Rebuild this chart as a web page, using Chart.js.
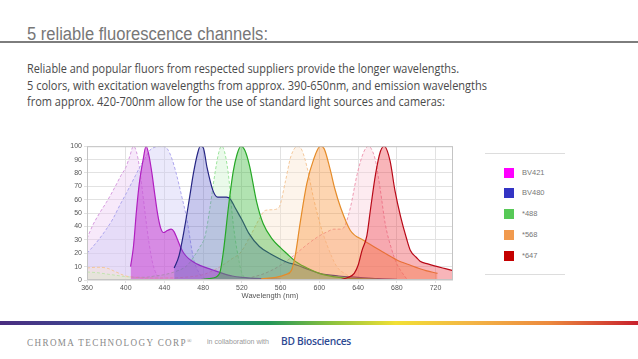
<!DOCTYPE html>
<html>
<head>
<meta charset="utf-8">
<script src="https://cdn.jsdelivr.net/npm/chart.js@4.4.1/dist/chart.umd.min.js"></script>
<style>
  html, body { margin: 0; padding: 0; background: #fff; }
  body { width: 638px; height: 359px; position: relative; overflow: hidden; }
  .abs { position: absolute; white-space: nowrap; transform-origin: 0 0; }
  #title { left: 27px; top: 25px; font: 18px "Liberation Sans", Arial, sans-serif; line-height: 18px; color: #777; }
  #rule { left: 0; top: 41px; width: 638px; height: 2px; background: #7d7d7d; }
  .body { left: 27px; font: 12.5px "Open Sans", sans-serif; line-height: 16px; color: #4a4a4a; }
  #rainbow { left: 0; top: 321px; width: 638px; height: 4px;
    background: linear-gradient(to right, #4a2d80 0%, #3d4791 14%, #1d6aa3 28%, #22955a 42%, #8cc23e 52%, #f2e035 62%, #f3b445 74%, #ec8a3e 86%, #c8202c 100%); }
  #chroma { left: 27px; top: 336px; font: 10.5px "Liberation Serif", serif; letter-spacing: 1.6px; color: #8a8a8a; line-height: 11px; }
  #collab { left: 207px; top: 338px; font: 7.5px "Liberation Sans", sans-serif; color: #9a9a9a; line-height: 8px; }
  #bd { left: 281px; top: 335px; font: 600 11.5px "Open Sans", sans-serif; color: #2d4a92; line-height: 12px; letter-spacing: -0.3px; }
  #chartWrap { position: absolute; left: 60px; top: 140px; width: 400px; height: 162px; }
  .legLine { position: absolute; left: 485px; width: 80px; height: 1px; background: #ddd; }
  .legSq { position: absolute; left: 504px; width: 10px; height: 10px; }
  .legTx { position: absolute; left: 522px; font: 7.5px "Liberation Sans", sans-serif; color: #777; line-height: 8px; }
</style>
</head>
<body>
<div id="title" class="abs" data-w="241">5 reliable fluorescence channels:</div>
<div id="rule" class="abs"></div>
<div class="abs body" style="top:61px" data-w="432">Reliable and popular fluors from respected suppliers provide the longer wavelengths.</div>
<div class="abs body" style="top:77.5px" data-w="460">5 colors, with excitation wavelengths from approx. 390-650nm, and emission wavelengths</div>
<div class="abs body" style="top:93.5px" data-w="418">from approx. 420-700nm allow for the use of standard light sources and cameras:</div>

<div id="chartWrap"><canvas id="c" width="400" height="162"></canvas></div>
<div id="legend"></div>

<div id="rainbow" class="abs"></div>
<div id="chroma" class="abs" data-w="166">CHROMA TECHNOLOGY CORP<span style="font-size:7px;vertical-align:3px">®</span></div>
<div id="collab" class="abs" data-w="62">in collaboration with</div>
<div id="bd" class="abs" data-w="70">BD Biosciences</div>

<script>
// ---- Data (wavelength nm, relative intensity %) ----
const bv421ExWl  = [360,366,373,380,384,390,395,400,404,408,411,414,417,420,424,428,432,436,440];
const bv421ExVal = [31,41,50,58,63,71,78,84,92,100,96,85,68,50,28,12,4,1,0];

const bv421EmWl  = [405,408,411,414,418,421,424,427,430,433,436,439,443,447,450,453,457,460,465,470,475,480,490,500,510,520,540,560];
const bv421EmVal = [10,25,51,72,90,100,93,80,64,49,39,35.5,37,38,36,31,24,20,16,13.5,11.5,10,7.5,5,3,2,1,0.5];

const bv480ExWl  = [360,365,373,380,387,394,400,405,410,415,420,425,431,437,443,448,452,458,463,470,476,482,488];
const bv480ExVal = [20,24,31,38,46,56,64,71,78,85,91,97,99.5,100,98,90,80,62,46,16,5,1,0];

const bv480EmWl  = [450,455,461,466,470,474,477,480,484,490,495,500,504,508,513,520,527,538,552,566,577,590,600,620,640,660,680];
const bv480EmVal = [9,18,40,62,80,94,100,99,84,67,62,62,62,60.5,54,45,35,25,18.5,13.5,11,7.5,5,3,2,1,0.5];

const ex488Wl  = [360,370,380,390,400,410,420,430,440,450,460,465,470,476,482,487,492,496,499,502,506,511,515,520,525,530,540];
const ex488Val = [6,5.5,4.5,3.5,2.5,2,2,3,4,6,9,12,17,24,33,54,79,95,100,96,79,42,22,5,1.5,0.5,0];

const em488Wl  = [470,480,490,497,501,506,511,515,519,523,528,535,542,552,560,566,577,590,600,620,640,660];
const em488Val = [0,0.5,1.5,5,22,54,81,94,100,97,85,59,42,30,24,20,13,8,5,2,1,0.5];

const ex568Wl  = [360,370,380,390,400,410,420,440,460,480,490,500,510,518,528,539,544,551,558,565,570,574,578,582,587,594,601,608,618,628,635];
const ex568Val = [9,9.5,9,6,3,2,1.5,1.5,2,4,7,11,16,20,32,47,52,52.5,54,74,91,98,100,97,85,61,41,26,10,4,1];

const em568Wl  = [540,555,565,571,575,580,587,594,601,605,611,616,622,632,646,663,680,694,710,722];
const em568Val = [1,2,4,7,18,42,72,90,100,98,83,68,54,37,29.5,22,15,11,7,5];

const ex647Wl  = [530,540,550,560,573,590,600,608,615,622,626,632,639,646,651,655,658,663,668,675,680,684,690];
const ex647Val = [2,4,7,11,18,28,33,36,38,38,40,54,79,96,100,96,89,67,42,22,12,7,1];

const em647Wl  = [620,630,636,640,644,649,653,658,663,667,673,678,684,690,694,700,704,712,722,730,738];
const em647Val = [0,2,5,11,22,33,54,79,96,100,89,67,47,31,22,17,14,12,10,8.5,7];

const xTicks = [360,400,440,480,520,560,600,640,680,720];
const legendNames = ["BV421","BV480","*488","*568","*647"];
const legendColors = ["#ff00ff","#3434c4","#57c957","#f19a4e","#c40000"];

// ---- Build chart ----
function pts(wl, v) { return wl.map((x, i) => ({ x: x, y: v[i] })); }
function em(wl, v, line, fill) {
  return { data: pts(wl, v), borderColor: line, backgroundColor: fill, borderWidth: 1.2, fill: 'origin' };
}
function ex(wl, v, line, fill) {
  return { data: pts(wl, v), borderColor: line, backgroundColor: fill, borderWidth: 1, borderDash: [3, 2], fill: 'origin' };
}

const datasets = [
  em(em647Wl, em647Val, '#b80a18', 'rgba(238,70,80,0.40)'),
  em(em568Wl, em568Val, '#e58c2a', 'rgba(249,150,60,0.40)'),
  em(em488Wl, em488Val, '#26a826', 'rgba(60,185,60,0.40)'),
  em(bv480EmWl, bv480EmVal, '#262684', 'rgba(80,80,200,0.32)'),
  em(bv421EmWl, bv421EmVal, '#b020c0', 'rgba(195,45,205,0.50)'),
  ex(ex647Wl, ex647Val, '#ee9ab2', 'rgba(250,205,218,0.40)'),
  ex(ex568Wl, ex568Val, '#f4c89c', 'rgba(250,228,205,0.40)'),
  ex(ex488Wl, ex488Val, '#9ce49c', 'rgba(200,242,200,0.38)'),
  ex(bv480ExWl, bv480ExVal, '#aea6ee', 'rgba(205,200,246,0.40)'),
  ex(bv421ExWl, bv421ExVal, '#d69ade', 'rgba(236,200,242,0.40)')
];

const boxPlugin = {
  id: 'box',
  afterDraw(chart) {
    const a = chart.chartArea, ctx = chart.ctx;
    ctx.save();
    ctx.strokeStyle = '#c4c4c4';
    ctx.lineWidth = 1;
    ctx.strokeRect(a.left + 0.5, a.top + 0.5, a.right - a.left - 1, a.bottom - a.top - 1);
    ctx.restore();
  }
};

new Chart(document.getElementById('c'), {
  type: 'line',
  data: { datasets: datasets },
  plugins: [boxPlugin],
  options: {
    responsive: false,
    animation: false,
    devicePixelRatio: 1,
    layout: { padding: { left: 0, right: 7, top: 5, bottom: 0 } },
    elements: { point: { radius: 0 }, line: { tension: 0.4, cubicInterpolationMode: 'monotone' } },
    plugins: { legend: { display: false }, tooltip: { enabled: false } },
    scales: {
      x: {
        type: 'linear', min: 360, max: 738,
        afterBuildTicks(s) { s.ticks = xTicks.map(v => ({ value: v })); },
        afterFit(s) { s.height = 22; },
        grid: { color: '#e2e2e2', tickLength: 3, drawTicks: true },
        border: { display: false },
        ticks: { font: { size: 7, family: 'Liberation Sans' }, color: '#555', padding: 1, maxRotation: 0, autoSkip: false },
        title: { display: true, text: 'Wavelength (nm)', font: { size: 7.5, family: 'Liberation Sans' }, color: '#555', padding: { top: 0, bottom: 2 } }
      },
      y: {
        min: 0, max: 100,
        afterFit(s) { s.width = 27; },
        grid: { color: '#e2e2e2', tickLength: 3 },
        border: { display: false },
        ticks: { stepSize: 10, font: { size: 7, family: 'Liberation Sans' }, color: '#555', padding: 2 }
      }
    }
  }
});

// ---- Legend (HTML) ----
const leg = document.getElementById('legend');
const legTop = [172.5, 193, 214, 234.5, 255.5];
let html = '<div class="legLine" style="top:153px"></div><div class="legLine" style="top:274px"></div>';
legendNames.forEach((n, i) => {
  html += '<div class="legSq" style="top:' + (legTop[i] - 5) + 'px;background:' + legendColors[i] + '"></div>';
  html += '<div class="legTx" style="top:' + (legTop[i] - 4) + 'px">' + n + '</div>';
});
leg.innerHTML = html;

// ---- Fit text widths ----
document.querySelectorAll('[data-w]').forEach(el => {
  const w = parseFloat(el.getAttribute('data-w'));
  const actual = el.getBoundingClientRect().width;
  if (actual > 0) el.style.transform = 'scaleX(' + (w / actual) + ')';
});
</script>
</body>
</html>
